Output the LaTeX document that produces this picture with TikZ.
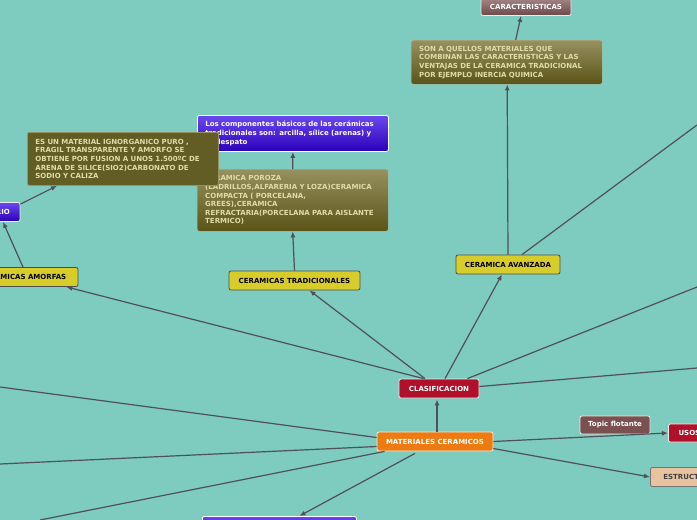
\documentclass[tikz,border=0pt]{standalone}
\usepackage{fontspec}
\setmainfont{DejaVu Sans}
\usetikzlibrary{arrows.meta,calc}
\begin{document}
\begin{tikzpicture}[x=1pt,y=-1pt,
  every node/.style={font=\bfseries\fontsize{7}{8.6}\selectfont, rounded corners=2pt, inner sep=0pt, anchor=north west},
  box/.style={minimum height=#1, draw=white!85!gray, line width=0.8pt},
  olive/.style={top color=olivelt, bottom color=olivedk, text=olivetx, draw=olivelt!60!white, align=left, inner xsep=8pt, inner ysep=4pt},
  blue/.style={top color=blu1, bottom color=blu2, text=white, draw=white},
  con/.style={draw=lnc, line width=1.2pt},
  arr/.style={con, -{Latex[length=6pt,width=5pt]}}]
\definecolor{bg}{HTML}{7ECBBF}
\definecolor{lnc}{HTML}{505058}
\definecolor{olivelt}{HTML}{979060}
\definecolor{olivedk}{HTML}{5A5418}
\definecolor{olivetx}{HTML}{E0DCA8}
\definecolor{blu1}{HTML}{6A48F0}
\definecolor{blu2}{HTML}{2C00B8}
\definecolor{dred}{HTML}{B0102A}
\definecolor{orng}{HTML}{EE7A12}
\definecolor{yel}{HTML}{D8CC2A}
\definecolor{brn}{HTML}{7A5050}
\definecolor{tan}{HTML}{E8C39F}
\fill[bg] (0,0) rectangle (697,520);
\useasboundingbox (0,0) rectangle (697,520);
\coordinate (l1) at (0,387); \coordinate (l2) at (0,464); \coordinate (l3) at (40,520);
\coordinate (r1) at (697,287); \coordinate (r2) at (697,368); \coordinate (r3) at (697,125);
% nodes
\node[box=17pt, top color=brn!70!white, bottom color=brn!90!black, text=white, minimum width=90pt, align=center, anchor=center] (car) at (526,7) {CARACTERISTICAS};
\node[olive, text width=175pt, minimum height=44pt] (son) at (411,40) {SON A QUELLOS MATERIALES QUE\\COMBINAN LAS CARACTERISTICAS Y LAS\\VENTAJAS DE LA CERAMICA TRADICIONAL\\POR EJEMPLO INERCIA QUIMICA};
\node[blue, text width=175pt, minimum height=36pt, align=left, inner xsep=8pt, inner ysep=5pt, line width=0.8pt] (los) at (197,115) {Los componentes básicos de las cerámicas\\tradicionales son: arcilla, sílice (arenas) y\\feldespato};
\node[olive, text width=175pt, minimum height=62pt] (por) at (197,169) {CERAMICA POROZA\\(LADRILLOS,ALFARERIA Y LOZA)CERAMICA\\COMPACTA ( PORCELANA,\\GREES),CERAMICA\\REFRACTARIA(PORCELANA PARA AISLANTE\\TERMICO)};
\node[fill=olivedk!95!white, draw=olivelt, line width=0.8pt, text=olivetx, text width=175pt, minimum height=53pt, align=left, inner xsep=8pt, inner ysep=5pt] (es) at (27,132) {ES UN MATERIAL IGNORGANICO PURO ,\\FRAGIL TRANSPARENTE Y AMORFO SE\\OBTIENE POR FUSION A UNOS 1.500ºC DE\\ARENA DE SILICE(SIO2)CARBONATO DE\\SODIO Y CALIZA};
\node[blue, box=19pt, minimum width=50pt, anchor=center] (vid) at (-5,212) {\hspace*{2pt}VIDRIO};
\node[box=19pt, fill=yel, draw=black!70, minimum width=110pt, anchor=center] (amo) at (23,277) {CERAMICAS AMORFAS};
\node[box=19pt, fill=yel, draw=black!70, minimum width=131pt, anchor=center] (tra) at (294.5,280.5) {CERAMICAS TRADICIONALES};
\node[box=19pt, fill=yel, draw=black!70, minimum width=104pt, anchor=center] (ava) at (508,264.5) {CERAMICA AVANZADA};
\node[box=19pt, fill=dred, text=white, minimum width=80pt, anchor=center] (cla) at (439,388.5) {CLASIFICACION};
\node[box=19pt, fill=orng, text=white, minimum width=116pt, anchor=center] (mat) at (435,441.5) {MATERIALES CERAMICOS};
\node[box=18pt, fill=brn, text=white, minimum width=70pt, anchor=center] (top) at (615,425) {Topic flotante};
\node[box=18pt, fill=dred, text=white, minimum width=44pt, anchor=west] (uso) at (668,433) {\hspace*{8pt}USOS\hspace*{10pt}};
\node[box=19pt, fill=tan, draw=black!55, text=black!75, minimum width=70pt, anchor=west] (est) at (650,477) {\hspace*{8pt}ESTRUCTURA};
\node[box=16pt, blue, minimum width=154pt, anchor=north west] (bot) at (202,516) {};
% edges
\draw[arr] ($(mat.north)+(2,0)$) -- ($(cla.south)+(-2,1)$);
\draw[arr] (mat.east) -- (uso.west);
\draw[arr] ($(mat.east)+(0,7)$) -- (est.west);
\draw[arr] ($(mat.south)+(-20,2)$) -- ($(bot.north)+(20,0)$);
\draw[con] ($(mat.west)+(0,-4)$) -- (l1);
\draw[con] ($(mat.west)+(0,5)$) -- (l2);
\draw[con] ($(mat.south west)+(8,0)$) -- (l3);
\draw[arr] ($(cla.north)+(-14,0)$) -- ($(tra.south)+(15,0)$);
\draw[arr] ($(cla.north west)+(25,0)$) -- ($(amo.south east)+(-12,0)$);
\draw[arr] ($(cla.north)+(6,0)$) -- ($(ava.south)+(-6,0)$);
\draw[con] ($(cla.north east)+(-12,0)$) -- (r1);
\draw[con] ($(cla.east)+(0,-2)$) -- (r2);
\draw[con] ($(ava.north)+(14,0)$) -- (r3);
\draw[arr] (ava.north) -- ($(son.south)+(0.5,0)$);
\draw[arr] ($(son.north)+(9,0)$) -- ($(car.south)+(-5,0)$);
\draw[arr] (tra.north) -- (por.south);
\draw[arr] (por.north) -- (los.south);
\draw[arr] (amo.north) -- ($(vid.south)+(8,0)$);
\draw[arr] ($(vid.north east)+(0,2)$) -- ($(es.south west)+(30,0)$);
\end{tikzpicture}
\end{document}
